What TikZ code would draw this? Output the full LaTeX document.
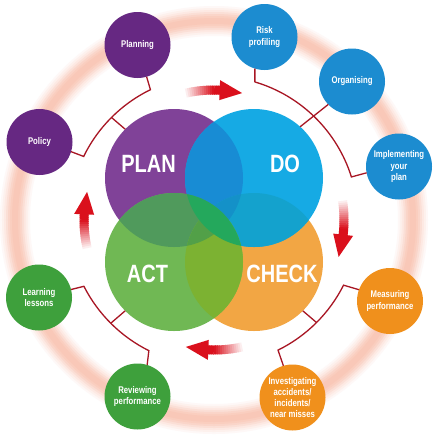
\documentclass[tikz,border=0pt]{standalone}
\usepackage{fontspec}
\newfontfamily\condf{Liberation Sans}[FakeStretch=0.8]
\definecolor{planC}{RGB}{128,66,152}
\definecolor{doC}{RGB}{22,170,228}
\definecolor{actC}{RGB}{112,184,84}
\definecolor{checkC}{RGB}{242,166,68}
\definecolor{pdC}{RGB}{24,140,212}
\definecolor{paC}{RGB}{80,154,92}
\definecolor{dcC}{RGB}{20,162,205}
\definecolor{acC}{RGB}{124,178,50}
\definecolor{pdcC}{RGB}{20,145,200}
\definecolor{pacC}{RGB}{82,160,72}
\definecolor{daC}{RGB}{36,168,92}
\definecolor{purpS}{RGB}{102,40,130}
\definecolor{blueS}{RGB}{28,140,208}
\definecolor{orangeS}{RGB}{240,144,28}
\definecolor{greenS}{RGB}{62,160,60}
\definecolor{connC}{RGB}{168,22,36}
\definecolor{arrC}{RGB}{218,16,28}
\definecolor{ringC}{RGB}{249,200,184}
\tikzset{
  smallc/.style={circle, minimum size=66, inner sep=0, outer sep=0, text=white,
    align=center, font=\condf\bfseries\fontsize{9.7}{11.3}\selectfont},
  bigc/.style={circle, minimum size=138, inner sep=0, outer sep=0},
  bigtxt/.style={text=white, inner sep=0, font=\condf\bfseries\fontsize{25}{25}\selectfont},
  conn/.style={draw=connC, line width=1.3, line join=miter},
}
\newcommand\pdcaArrow[1]{%
  \foreach \k in {0,...,17}{%
    \pgfmathsetmacro\angA{#1+12.5-\k*0.9}%
    \pgfmathsetmacro\angB{#1+12.5-(\k+1.25)*0.9}%
    \pgfmathtruncatemacro\pctv{min(100,(\k+1)*7)}%
    \draw[line width=9, arrC!\pctv!white] (\angA:130) arc[start angle=\angA, end angle=\angB, radius=130];
  }%
  \fill[arrC] (#1-2.5:140) -- (#1-12.5:130) -- (#1-2.5:120) -- cycle;
}
\begin{document}
\begin{tikzpicture}[x=1pt,y=1pt]
\fill[white] (0,0) rectangle (441,-440);
\useasboundingbox (0,0) rectangle (441,-440);
\begin{scope}[shift={(214,-220)}]
  % outer ring (soft edges)
  \foreach \w/\p in {30/12, 26/25, 22/40, 18/58, 14/76, 10/90, 6/100}{
    \draw[ringC!\p!white, line width=\w] (0,0) circle[radius=199];
  }

  % big circles: base fills
  \fill[checkC] (40,-42) circle[radius=69];
  \fill[planC] (-40,42) circle[radius=69];
  \fill[doC] (40,42) circle[radius=69];
  \fill[actC] (-40,-42) circle[radius=69];
  % overlaps
  \begin{scope}\clip (-40,42) circle[radius=69]; \fill[pdC] (40,42) circle[radius=69]; \end{scope}
  \begin{scope}\clip (-40,42) circle[radius=69]; \fill[paC] (-40,-42) circle[radius=69]; \end{scope}
  \begin{scope}\clip (40,-42) circle[radius=69]; \fill[dcC] (40,42) circle[radius=69]; \end{scope}
  \begin{scope}\clip (40,-42) circle[radius=69]; \fill[acC] (-40,-42) circle[radius=69]; \end{scope}
  \begin{scope}\clip (-40,42) circle[radius=69]; \clip (40,-42) circle[radius=69];
    \fill[pdcC] (40,42) circle[radius=69]; \fill[pacC] (-40,-42) circle[radius=69]; \end{scope}
  \begin{scope}\clip (40,42) circle[radius=69]; \fill[daC] (-40,-42) circle[radius=69]; \end{scope}

  \node[bigc] (plan) at (-40,42) {};
  \node[bigc] (do) at (40,42) {};
  \node[bigc] (act) at (-40,-42) {};
  \node[bigc] (check) at (40,-42) {};
  \node[bigtxt] (plantxt) at (-65.5,56) {PLAN};
  \node[bigtxt] (dotxt) at (71,56) {DO};
  \node[bigtxt] (acttxt) at (-66.5,-54) {ACT};
  \node[bigtxt] (checktxt) at (68,-54) {CHECK};

  % small circles
  \node[smallc, fill=purpS] (planning) at (-76.5,175) {Planning};
  \node[smallc, fill=purpS] (policy) at (-174.5,78) {Policy};
  \node[smallc, fill=blueS] (risk) at (50.5,183) {Risk\\profiling};
  \node[smallc, fill=blueS] (organising) at (138,138.5) {Organising};
  \node[smallc, fill=blueS] (implementing) at (185,53.5) {Implementing\\your\\plan};
  \node[smallc, fill=orangeS] (measuring) at (176,-81) {Measuring\\performance};
  \node[smallc, fill=orangeS] (investigating) at (78.5,-177.5) {Investigating\\accidents/\\incidents/\\near misses};
  \node[smallc, fill=greenS] (reviewing) at (-76.5,-176.5) {Reviewing\\performance};
  \node[smallc, fill=greenS] (learning) at (-175,-77.5) {Learning\\lessons};

  % connectors
  \draw[conn] (planning.286) -- (116:145) arc[start angle=116, end angle=154, radius=145] -- (policy.343);
  \draw[conn] (135:145) -- (plan.135);
  \draw[conn] (risk.253) -- (73.5:144) arc[start angle=73.5, end angle=17.4, radius=144] -- (implementing.191);
  \draw[conn] (organising.224) -- (do.48);
  \draw[conn] (measuring.160) -- (-26.7:145) arc[start angle=-26.7, end angle=-63.8, radius=145] -- (investigating.106);
  \draw[conn] (-45:145) -- (check.-45);
  \draw[conn] (learning.14) -- (-153:146) arc[start angle=-153, end angle=-116.5, radius=146] -- (reviewing.73);
  \draw[conn] (-135:146) -- (act.-135);

  % cycle arrows
  \pdcaArrow{90}
  \pdcaArrow{-4}
  \pdcaArrow{-90}
  \pdcaArrow{180}
\end{scope}
\end{tikzpicture}
\end{document}
